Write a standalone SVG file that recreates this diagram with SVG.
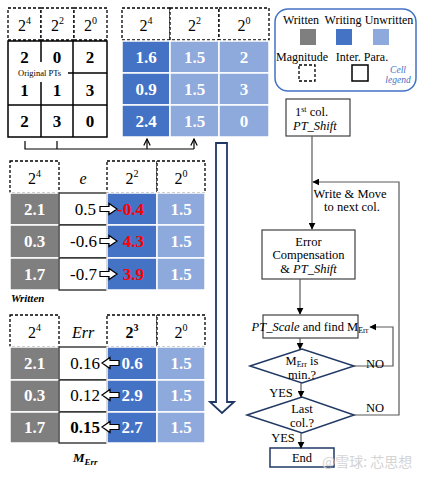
<svg xmlns="http://www.w3.org/2000/svg" width="422" height="477" viewBox="0 0 422 477" font-family="'Liberation Serif', 'Times New Roman', serif">
<style>
text, tspan{font-family:'Liberation Serif','Times New Roman',serif}
text{fill:#000}
.hd{font-size:16px;text-anchor:middle}
.num{font-size:17px;font-weight:bold;text-anchor:middle;fill:#fff}
.bk{font-size:17px;text-anchor:middle;fill:#000;font-weight:bold}
.ev{font-size:17px;text-anchor:end}
.red{font-size:17px;font-weight:bold;fill:#f00;text-anchor:end}
.dash{fill:#fff;stroke:#000;stroke-width:1.3;stroke-dasharray:3,2}
.g{fill:#7f7f7f;stroke:#fff;stroke-width:1.5}
.db{fill:#4472c4;stroke:#fff;stroke-width:1.5}
.lb{fill:#8ea9db;stroke:#fff;stroke-width:1.5}
.wc{fill:#fff;stroke:#222;stroke-width:1.3}
.ln{fill:none;stroke:#000;stroke-width:1.5}
.fb{fill:#fff;stroke:#404040;stroke-width:1.2}
.fl{fill:none;stroke:#595959;stroke-width:1.2}
.dm{fill:#fff;stroke:#203864;stroke-width:1.5}
.ft{font-size:12.5px;text-anchor:middle}
.lg{font-size:12px;text-anchor:middle}
.ha{fill:#fff;stroke:#000;stroke-width:1.2}
.cl{font-size:9.5px;font-style:italic;fill:#4472c4;text-anchor:middle}
</style>
<defs>
<marker id="ah" viewBox="0 0 10 10" refX="9" refY="5" markerWidth="7" markerHeight="7" orient="auto-start-reverse" markerUnits="userSpaceOnUse"><path d="M0,0 L10,5 L0,10 Z" fill="#000"/></marker>
<marker id="ch" viewBox="0 0 10 10" refX="9" refY="5" markerWidth="8" markerHeight="8" orient="auto" markerUnits="userSpaceOnUse"><path d="M1,1 L9,5 L1,9" fill="none" stroke="#000" stroke-width="1.5"/></marker>
<path id="ra" d="M0,-2.5 H9 V-5.5 L17,0 L9,5.5 V2.5 H0 Z"/>
<path id="la" d="M17,-2.5 H8 V-5.5 L0,0 L8,5.5 V2.5 H17 Z"/>
</defs>

<g id="original-pts">
<rect class="dash" x="8" y="8" width="33" height="32"/>
<rect class="dash" x="41" y="8" width="33" height="32"/>
<rect class="dash" x="74" y="8" width="33" height="32"/>
<text class="hd" x="24.5" y="31">2<tspan font-size="10" dy="-7">4</tspan></text>
<text class="hd" x="57.5" y="31">2<tspan font-size="10" dy="-7">2</tspan></text>
<text class="hd" x="90.5" y="31">2<tspan font-size="10" dy="-7">0</tspan></text>
<rect x="8" y="41" width="99" height="96" fill="#fff" stroke="#000" stroke-width="1.5"/>
<line class="ln" x1="41" y1="41" x2="41" y2="62"/>
<line class="ln" x1="41" y1="82" x2="41" y2="137"/>
<line class="ln" x1="73" y1="41" x2="73" y2="137"/>
<line class="ln" x1="68" y1="73" x2="107" y2="73"/>
<line class="ln" x1="8" y1="105" x2="107" y2="105"/>
<text x="18" y="76" font-size="8.5">Original PTs</text>
<text class="bk" x="24.5" y="63">2</text><text class="bk" x="57" y="63">0</text><text class="bk" x="90" y="63">2</text>
<text class="bk" x="24.5" y="96">1</text><text class="bk" x="57" y="96">1</text><text class="bk" x="90" y="96">3</text>
<text class="bk" x="24.5" y="127">2</text><text class="bk" x="57" y="127">3</text><text class="bk" x="90" y="127">0</text>
</g>

<g id="inter-para">
<rect class="dash" x="122" y="8" width="48" height="32"/>
<rect class="dash" x="170" y="8" width="49" height="32"/>
<rect class="dash" x="219" y="8" width="50" height="32"/>
<text class="hd" x="146" y="31">2<tspan font-size="10" dy="-7">4</tspan></text>
<text class="hd" x="194.5" y="31">2<tspan font-size="10" dy="-7">2</tspan></text>
<text class="hd" x="244" y="31">2<tspan font-size="10" dy="-7">0</tspan></text>
<rect class="db" x="122" y="41" width="48" height="32"/><rect class="lb" x="170" y="41" width="49" height="32"/><rect class="lb" x="219" y="41" width="50" height="32"/>
<rect class="db" x="122" y="73" width="48" height="32"/><rect class="lb" x="170" y="73" width="49" height="32"/><rect class="lb" x="219" y="73" width="50" height="32"/>
<rect class="db" x="122" y="105" width="48" height="32"/><rect class="lb" x="170" y="105" width="49" height="32"/><rect class="lb" x="219" y="105" width="50" height="32"/>
<text class="num" x="146" y="63">1.6</text><text class="num" x="194.5" y="63">1.5</text><text class="num" x="244" y="63">2</text>
<text class="num" x="146" y="95">0.9</text><text class="num" x="194.5" y="95">1.5</text><text class="num" x="244" y="95">3</text>
<text class="num" x="146" y="127">2.4</text><text class="num" x="194.5" y="127">1.5</text><text class="num" x="244" y="127">0</text>
</g>

<g id="legend">
<rect x="275" y="9" width="141" height="82" rx="13" fill="#fff" stroke="#4472c4" stroke-width="1.5"/>
<text class="lg" x="301" y="24">Written</text>
<text class="lg" x="343" y="24">Writing</text>
<text class="lg" x="389" y="24">Unwritten</text>
<rect x="300" y="29" width="16" height="16" fill="#7f7f7f"/>
<rect x="336" y="29" width="16" height="16" fill="#4472c4"/>
<rect x="373" y="29" width="16" height="16" fill="#8ea9db"/>
<text class="lg" x="302" y="61">Magnitude</text>
<text class="lg" x="362" y="61">Inter. Para.</text>
<rect x="299" y="65" width="16" height="16" fill="#fff" stroke="#000" stroke-width="1.3" stroke-dasharray="3,2"/>
<rect x="352" y="65" width="16" height="16" fill="#fff" stroke="#000" stroke-width="1.5"/>
<text class="cl" x="398" y="73">Cell</text>
<text class="cl" x="398" y="83">legend</text>
</g>

<g id="written-table">
<rect class="dash" x="10" y="161" width="49" height="32"/>
<rect class="dash" x="107" y="161" width="50" height="32"/>
<rect class="dash" x="157" y="161" width="48" height="32"/>
<text class="hd" x="34.5" y="184">2<tspan font-size="10" dy="-7">4</tspan></text>
<text class="hd" x="83" y="184" font-style="italic">e</text>
<text class="hd" x="132" y="184">2<tspan font-size="10" dy="-7">2</tspan></text>
<text class="hd" x="181" y="184">2<tspan font-size="10" dy="-7">0</tspan></text>
<rect class="g" x="10" y="193" width="49" height="32"/><rect class="wc" x="59" y="193" width="48" height="32"/><rect class="db" x="107" y="193" width="50" height="32"/><rect class="lb" x="157" y="193" width="48" height="32"/>
<rect class="g" x="10" y="225" width="49" height="33"/><rect class="wc" x="59" y="225" width="48" height="33"/><rect class="db" x="107" y="225" width="50" height="33"/><rect class="lb" x="157" y="225" width="48" height="33"/>
<rect class="g" x="10" y="258" width="49" height="32"/><rect class="wc" x="59" y="258" width="48" height="32"/><rect class="db" x="107" y="258" width="50" height="32"/><rect class="lb" x="157" y="258" width="48" height="32"/>
<text class="num" x="34.5" y="215">2.1</text><text class="ev" x="96" y="215">0.5</text><text class="red" x="144" y="215">-0.4</text><text class="num" x="181" y="215">1.5</text>
<text class="num" x="34.5" y="247">0.3</text><text class="ev" x="97" y="247">-0.6</text><text class="red" x="144" y="247">4.3</text><text class="num" x="181" y="247">1.5</text>
<text class="num" x="34.5" y="280">1.7</text><text class="ev" x="97" y="280">-0.7</text><text class="red" x="144" y="280">3.9</text><text class="num" x="181" y="280">1.5</text>
<use href="#ra" class="ha" x="100" y="209"/>
<use href="#ra" class="ha" x="100" y="241"/>
<use href="#ra" class="ha" x="100" y="274"/>
<text x="11" y="302" font-size="11" font-weight="bold" font-style="italic">Written</text>
</g>

<g id="merr-table">
<rect class="dash" x="10" y="315" width="49" height="32"/>
<rect class="dash" x="107" y="315" width="50" height="32"/>
<rect class="dash" x="157" y="315" width="48" height="32"/>
<text class="hd" x="34.5" y="338">2<tspan font-size="10" dy="-7">4</tspan></text>
<text class="hd" x="83" y="338" font-style="italic">Err</text>
<text class="hd" x="132" y="338" font-weight="bold">2<tspan font-size="10" dy="-7">3</tspan></text>
<text class="hd" x="181" y="338">2<tspan font-size="10" dy="-7">0</tspan></text>
<rect class="g" x="10" y="347" width="49" height="33"/><rect class="wc" x="59" y="347" width="48" height="33"/><rect class="db" x="107" y="347" width="50" height="33"/><rect class="lb" x="157" y="347" width="48" height="33"/>
<rect class="g" x="10" y="380" width="49" height="32"/><rect class="wc" x="59" y="380" width="48" height="32"/><rect class="db" x="107" y="380" width="50" height="32"/><rect class="lb" x="157" y="380" width="48" height="32"/>
<rect class="g" x="10" y="412" width="49" height="31"/><rect class="wc" x="59" y="412" width="48" height="31"/><rect class="db" x="107" y="412" width="50" height="31"/><rect class="lb" x="157" y="412" width="48" height="31"/>
<text class="num" x="34.5" y="369">2.1</text><text class="ev" x="100" y="369">0.16</text><text class="num" x="132" y="369">0.6</text><text class="num" x="181" y="369">1.5</text>
<text class="num" x="34.5" y="401">0.3</text><text class="ev" x="100" y="401">0.12</text><text class="num" x="132" y="401">2.9</text><text class="num" x="181" y="401">1.5</text>
<text class="num" x="34.5" y="433">1.7</text><text class="ev" x="100" y="433" font-weight="bold">0.15</text><text class="num" x="132" y="433">2.7</text><text class="num" x="181" y="433">1.5</text>
<use href="#la" class="ha" x="102" y="363"/>
<use href="#la" class="ha" x="102" y="395"/>
<use href="#la" class="ha" x="102" y="427"/>
<text x="73" y="462" font-size="13" font-style="italic" font-weight="bold">M<tspan font-size="9" dy="3">Err</tspan></text>
</g>

<g id="fc-start">
<rect class="fb" x="286" y="99" width="64" height="37"/>
<text x="295" y="116" font-size="12.5">1<tspan font-size="8" dy="-4">st</tspan><tspan dy="4"> col.</tspan></text>
<text x="293" y="130" font-size="12.5" font-style="italic">PT_Shift</text>
</g>
<g id="fc-comp">
<rect class="fb" x="262" y="230" width="93" height="49"/>
<text class="ft" x="308.5" y="246">Error</text>
<text class="ft" x="308.5" y="259">Compensation</text>
<text class="ft" x="308.5" y="273">&amp; <tspan font-style="italic">PT_Shift</tspan></text>
</g>
<g id="fc-scale">
<rect class="fb" x="263" y="315" width="95" height="23"/>
<text class="ft" x="310" y="331"><tspan font-style="italic">PT_Scale</tspan> and find M<tspan font-size="8" dy="2">Err</tspan></text>
</g>
<g id="fc-min">
<polygon class="dm" points="250,366 302,349 354,366 302,383"/>
<text class="ft" x="302" y="365">M<tspan font-size="8" dy="2">Err</tspan><tspan dy="-2"> is</tspan></text>
<text class="ft" x="302" y="379">min.?</text>
</g>
<g id="fc-last">
<polygon class="dm" points="247,415 302,397 354,415 302,433"/>
<text class="ft" x="302" y="413">Last</text>
<text class="ft" x="302" y="427">col.?</text>
</g>
<g id="fc-end">
<rect x="270" y="448" width="64" height="19" fill="#fff" stroke="#203864" stroke-width="1.5"/>
<text class="ft" x="302" y="462">End</text>
</g>

<g id="connectors">
<path d="M25,141 V149 H194" fill="none" stroke="#000" stroke-width="1.2"/>
<line x1="57" y1="141" x2="57" y2="149" stroke="#000" stroke-width="1.2"/>
<line x1="147" y1="149" x2="147" y2="139" stroke="#000" stroke-width="1.2" marker-end="url(#ch)"/>
<line x1="194" y1="149" x2="194" y2="139" stroke="#000" stroke-width="1.2" marker-end="url(#ch)"/>
<path d="M216,143 H227 V402 H234 L222,413 L210,402 H216 Z" fill="#fff" stroke="#203864" stroke-width="1.8"/>
<line class="fl" x1="312" y1="136" x2="312" y2="229" marker-end="url(#ah)"/>
<path class="fl" d="M354,415 H399 V182 H313" marker-end="url(#ah)"/>
<line class="fl" x1="300" y1="279" x2="300" y2="314" marker-end="url(#ah)"/>
<line class="fl" x1="300" y1="338" x2="300" y2="349" marker-end="url(#ah)"/>
<path class="fl" d="M354,366 H393 V327 H370" marker-end="url(#ah)"/>
<line class="fl" x1="301" y1="383" x2="301" y2="397" marker-end="url(#ah)"/>
<line class="fl" x1="301" y1="433" x2="301" y2="448" marker-end="url(#ah)"/>
<text x="350" y="198" font-size="12.5" text-anchor="middle">Write &amp; Move</text>
<text x="352" y="211" font-size="12.5" text-anchor="middle">to next col.</text>
<text class="ft" x="375" y="368">NO</text>
<text class="ft" x="375" y="412">NO</text>
<text class="ft" x="281" y="397">YES</text>
<text class="ft" x="283" y="442">YES</text>
</g>
<text x="322" y="467" font-size="14" style="font-family:'Noto Sans CJK SC',sans-serif;fill:#d4d4d4">@雪球: 芯思想</text>
</svg>
